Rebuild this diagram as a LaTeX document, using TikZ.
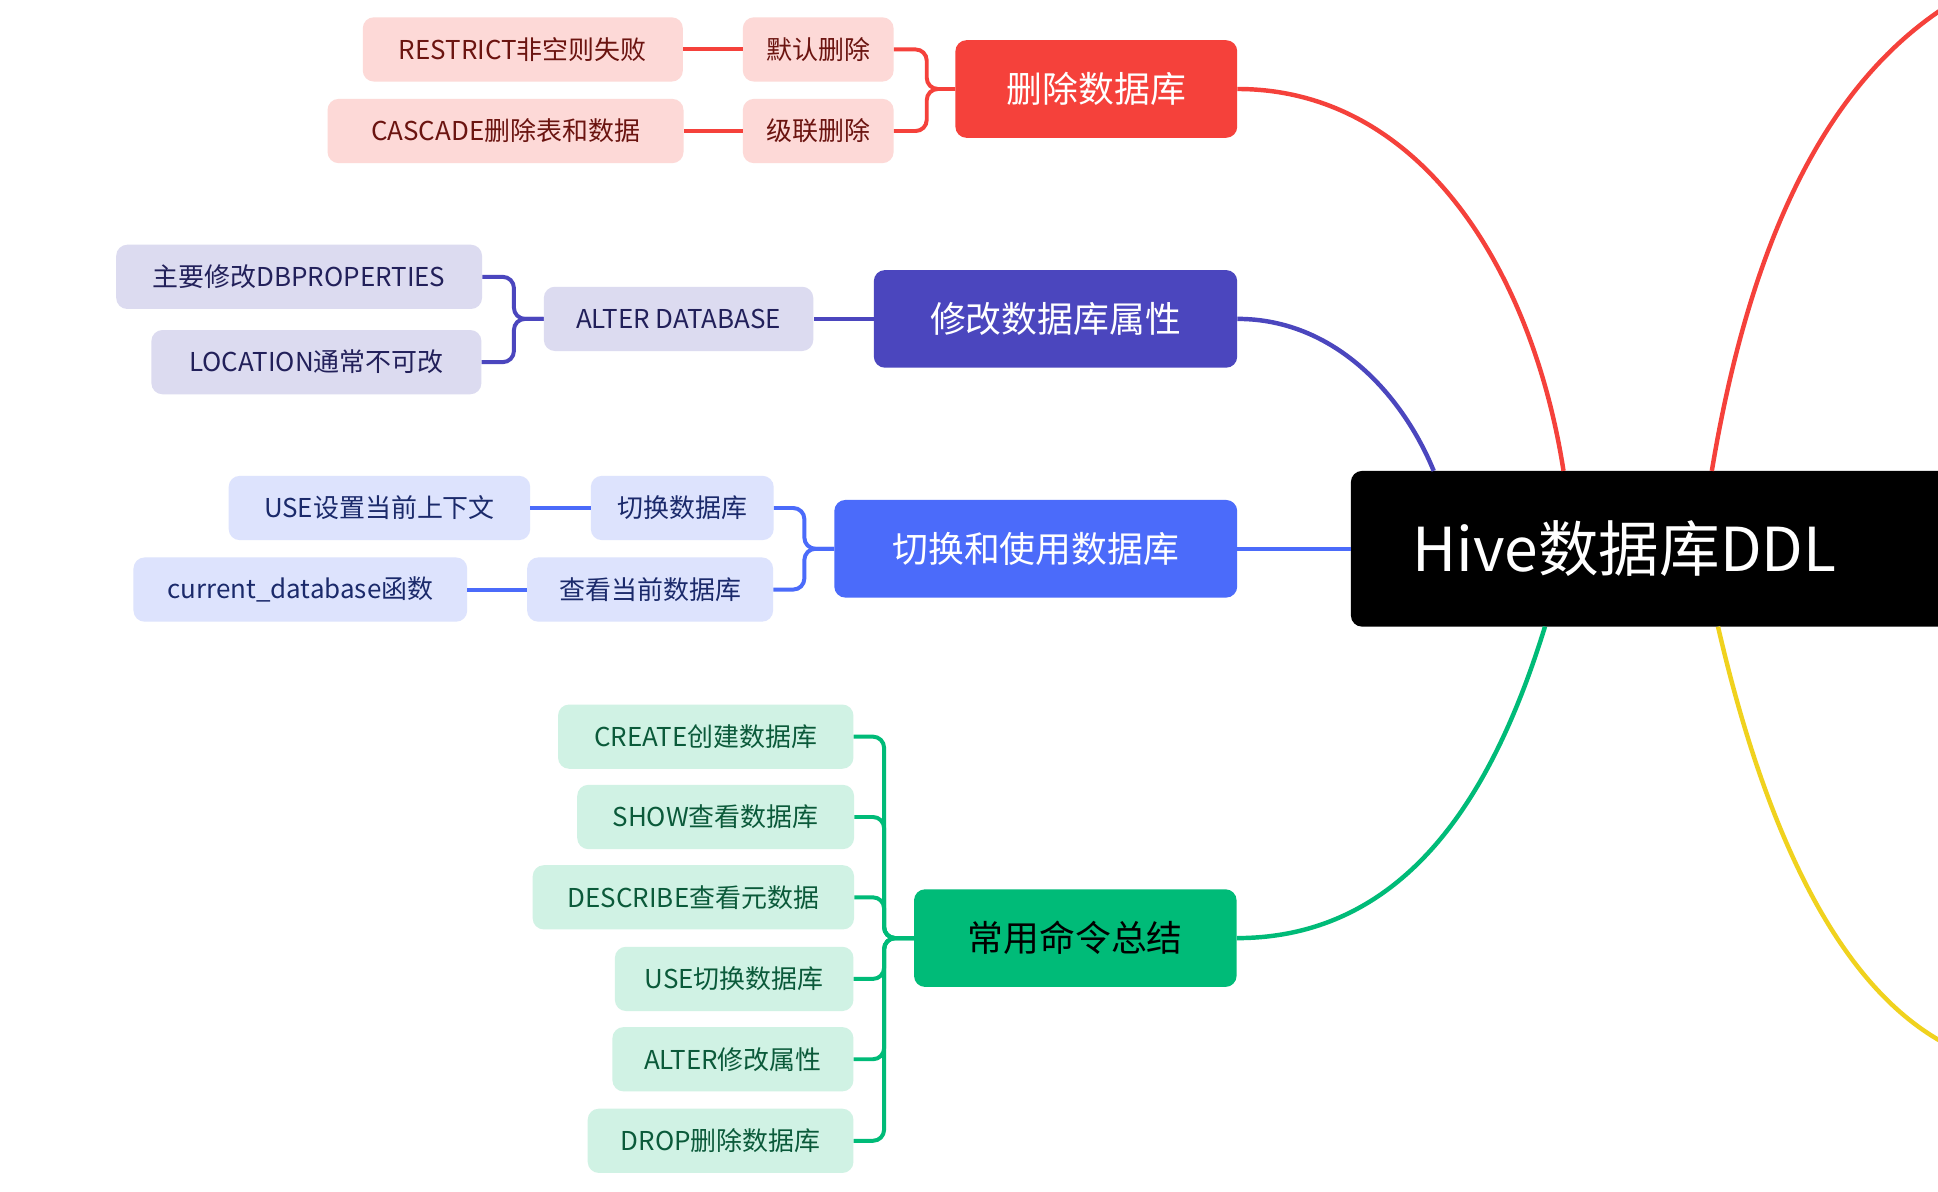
\documentclass[tikz,border=0pt]{standalone}
\usepackage{fontspec}
\setmainfont{Noto Sans CJK SC}
\begin{document}
\begin{tikzpicture}[x=1pt,y=-1pt,
 box/.style={rounded corners=9pt,inner sep=0pt,align=center},
 kid/.style={box,font=\fontsize{21}{24}\selectfont,minimum height=52pt},
 mainb/.style={box,font=\fontsize{29}{34}\selectfont,minimum height=79pt,text=white},
 conn/.style={line width=3.2pt,rounded corners=9pt}]
\clip (0,0) rectangle (1568,964);
\fill[white] (0,0) rectangle (1568,964);
\definecolor{cr}{HTML}{F5413B}\definecolor{crl}{HTML}{FDD9D7}\definecolor{crt}{HTML}{6B1410}
\definecolor{ci}{HTML}{4B46BE}\definecolor{cil}{HTML}{DCDBF0}\definecolor{cit}{HTML}{22205A}
\definecolor{cb}{HTML}{4B6BFA}\definecolor{cbl}{HTML}{DDE3FD}\definecolor{cbt}{HTML}{1B2A6B}
\definecolor{cg}{HTML}{00BB78}\definecolor{cgl}{HTML}{D0F2E4}\definecolor{cgt}{HTML}{0B5A3A}
\definecolor{cy}{HTML}{F0D21E}
% root
\node[box,fill=black,text=white,font=\fontsize{49}{56}\selectfont,minimum width=500pt,minimum height=126pt,text width=500pt,align=left] (root) at (1343,444) {\hspace{50pt}Hive数据库DDL};
\coordinate (rA) at (1265,381);\coordinate (rB) at (1160,381);\coordinate (rC) at (1250,507);
\coordinate (rD) at (1385,381);\coordinate (rE) at (1390,507);
\coordinate (tr) at (1575,5);\coordinate (br) at (1575,845);
\draw[cr,line width=3.6pt] (rD) .. controls (1420,170) and (1490,60) .. (tr);
\draw[cy,line width=3.6pt] (rE) .. controls (1430,680) and (1490,800) .. (br);
% red
\node[mainb,fill=cr,minimum width=228pt] (d) at (887,72) {删除数据库};
\draw[cr,line width=3.6pt] (d.east) .. controls (1150,72) and (1240,220) .. (rA);
\node[kid,fill=crl,text=crt,minimum width=122pt] (d1) at (662,40) {默认删除};
\node[kid,fill=crl,text=crt,minimum width=122pt] (d2) at (662,106) {级联删除};
\node[kid,fill=crl,text=crt,minimum width=259pt] (d11) at (423,40) {RESTRICT非空则失败};
\node[kid,fill=crl,text=crt,minimum width=288pt] (d21) at (409,106) {CASCADE删除表和数据};
\draw[conn,cr] (d.west) -- ++(-23,0) |- (d1.east);
\draw[conn,cr] (d.west) -- ++(-23,0) |- (d2.east);
\draw[conn,cr] (d1.west) -- (d11.east);
\draw[conn,cr] (d2.west) -- (d21.east);
% indigo
\node[mainb,fill=ci,minimum width=294pt] (m) at (854,258) {修改数据库属性};
\draw[ci,line width=3.6pt] (m.east) .. controls (1080,258) and (1135,320) .. (rB);
\node[kid,fill=cil,text=cit,minimum width=218pt] (m1) at (549,258) {ALTER DATABASE};
\node[kid,fill=cil,text=cit,minimum width=296pt] (m11) at (242,224) {主要修改DBPROPERTIES};
\node[kid,fill=cil,text=cit,minimum width=267pt] (m12) at (256,293) {LOCATION通常不可改};
\draw[conn,ci] (m.west) -- (m1.east);
\draw[conn,ci] (m1.west) -- ++(-24,0) |- (m11.east);
\draw[conn,ci] (m1.west) -- ++(-24,0) |- (m12.east);
% blue
\node[mainb,fill=cb,minimum width=326pt] (u) at (838,444) {切换和使用数据库};
\draw[cb,line width=3.6pt] (u.east) -- (root.west);
\node[kid,fill=cbl,text=cbt,minimum width=148pt] (u1) at (552,411) {切换数据库};
\node[kid,fill=cbl,text=cbt,minimum width=199pt] (u2) at (526,477) {查看当前数据库};
\node[kid,fill=cbl,text=cbt,minimum width=244pt] (u11) at (307,411) {USE设置当前上下文};
\node[kid,fill=cbl,text=cbt,minimum width=270pt] (u21) at (243,477) {current\_database函数};
\draw[conn,cb] (u.west) -- ++(-24,0) |- (u1.east);
\draw[conn,cb] (u.west) -- ++(-24,0) |- (u2.east);
\draw[conn,cb] (u1.west) -- (u11.east);
\draw[conn,cb] (u2.west) -- (u21.east);
% green
\node[mainb,fill=cg,text=black,minimum width=261pt] (g) at (870,759) {常用命令总结};
\draw[cg,line width=3.6pt] (g.east) .. controls (1150,759) and (1215,620) .. (rC);
\node[kid,fill=cgl,text=cgt,minimum width=239pt] (g1) at (571,596) {CREATE创建数据库};
\node[kid,fill=cgl,text=cgt,minimum width=224pt] (g2) at (579,661) {SHOW查看数据库};
\node[kid,fill=cgl,text=cgt,minimum width=260pt] (g3) at (561,726) {DESCRIBE查看元数据};
\node[kid,fill=cgl,text=cgt,minimum width=193pt] (g4) at (594,792) {USE切换数据库};
\node[kid,fill=cgl,text=cgt,minimum width=195pt] (g5) at (593,857) {ALTER修改属性};
\node[kid,fill=cgl,text=cgt,minimum width=215pt] (g6) at (583,923) {DROP删除数据库};
\foreach \c in {g1,g2,g3,g4,g5,g6}{\draw[conn,cg] (g.west) -- ++(-24,0) |- (\c.east);}
\end{tikzpicture}
\end{document}
